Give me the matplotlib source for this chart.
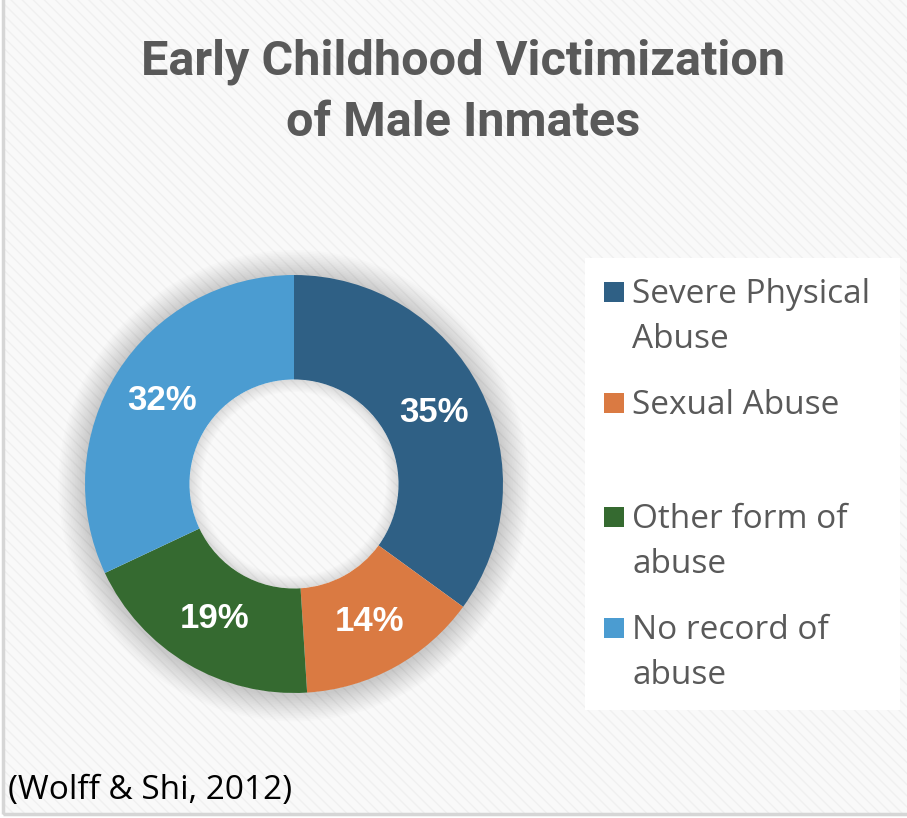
import textwrap
import matplotlib
matplotlib.use("Agg")
import matplotlib.pyplot as plt
from matplotlib.patches import Rectangle, Wedge

# ---- data ----
categories = ["Severe Physical Abuse", "Sexual Abuse", "Other form of abuse", "No record of abuse"]
values = [35, 14, 19, 32]
colors = ["#2F6085", "#DA7A42", "#356A30", "#4B9CD1"]
title = "Early Childhood Victimization\nof Male Inmates"
source = "(Wolff & Shi, 2012)"

W, H = 907, 818
fig = plt.figure(figsize=(W / 100, H / 100), dpi=100)
fig.patch.set_facecolor("white")

def fx(px):
    return px / W

def fy(py):
    return 1 - py / H

# background with subtle diagonal stripes and light border (left & bottom visible)
plt.rcParams["hatch.linewidth"] = 1.0
bg = Rectangle((fx(3), fy(814)), 1.2, 1.2, transform=fig.transFigure,
               facecolor="#F9F9F9", edgecolor="#F0F0F0", hatch="\\\\\\", lw=0, zorder=-3)
fig.patches.append(bg)
border = Rectangle((fx(3), fy(814)), 1.2, 1.2, transform=fig.transFigure,
                   facecolor="none", edgecolor="#D6D6D6", lw=2.5, zorder=-2)
fig.patches.append(border)

# donut axes
cx, cy, R = 294, 484, 209
ax = fig.add_axes([fx(cx - R), fy(cy + R), 2 * R / W, 2 * R / H])
ax.set_zorder(1)
ax.patch.set_visible(False)
ax.set_xlim(-1, 1)
ax.set_ylim(-1, 1)
ax.set_aspect("equal")
ax.axis("off")

# outer soft shadow (rings only outside the donut)
n = 16
for i in range(n):
    r_out = 1.0 + 0.008 * (i + 1)
    ax.add_patch(Wedge((0, -0.008), r_out, 0, 360, width=r_out - 0.99, facecolor="#000000",
                       alpha=0.013, lw=0, zorder=0, clip_on=False))
# inner shadow in hole
for i in range(10):
    ax.add_patch(Wedge((0, 0), 0.5, 0, 360, width=0.006 * (i + 1), facecolor="#000000",
                       alpha=0.012, lw=0, zorder=0))

wedges, _, autotexts = ax.pie(values, colors=colors, startangle=90, counterclock=False,
                              radius=1, autopct="%1.0f%%", pctdistance=0.75,
                              wedgeprops=dict(width=0.5, edgecolor="none"),
                              textprops=dict(color="white", fontsize=25, fontweight="bold",
                                             family="Liberation Sans"))
for w in wedges:
    w.set_zorder(2)
for t in autotexts:
    t.set_zorder(3)
ax.set_xlim(-1, 1)
ax.set_ylim(-1, 1)

# title
fig.text(fx(463), fy(92), title, ha="center", va="center", fontsize=35,
         fontweight="bold", color="#595959", family="Roboto", linespacing=1.41)

# legend box
fig.patches.append(Rectangle((fx(585), fy(710)), fx(900 - 585), (710 - 258) / H,
                             transform=fig.transFigure, facecolor="white",
                             edgecolor="none", zorder=2))
first_line_y = [292, 403, 517, 628]
for cat, col, yy in zip(categories, colors, first_line_y):
    fig.patches.append(Rectangle((fx(604), fy(yy + 10)), 20 / W, 20 / H,
                                 transform=fig.transFigure, facecolor=col,
                                 edgecolor="none", zorder=3))
    fig.text(fx(632), fy(yy - 14), textwrap.fill(cat, 15), ha="left", va="top",
             fontsize=24, color="#595959", family="Open Sans", linespacing=1.48, zorder=4)

# source
fig.text(fx(8), fy(790), source, ha="left", va="center", fontsize=24,
         color="black", family="Open Sans")

fig.savefig("out.png", dpi=100)
